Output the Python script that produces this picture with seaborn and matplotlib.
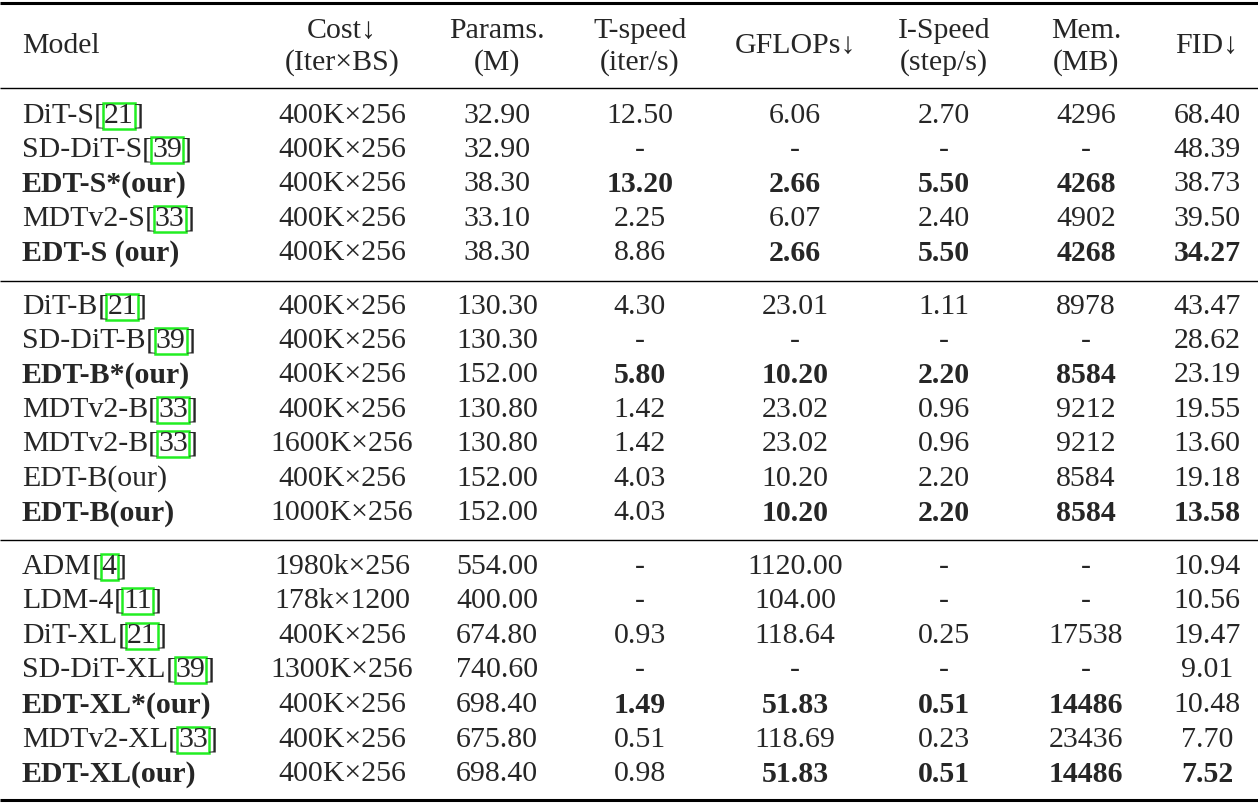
import matplotlib
matplotlib.use("Agg")
import matplotlib.pyplot as plt
import seaborn as sns
from matplotlib.patches import Rectangle

sns.set_theme(style="white")
plt.rcParams['font.family'] = ['Liberation Serif', 'DejaVu Serif']

headers1 = ["Model", "Cost↓", "Params.", "T-speed", "GFLOPs↓", "I-Speed", "Mem.", "FID↓"]
headers2 = ["", "(Iter×BS)", "(M)", "(iter/s)", "", "(step/s)", "(MB)", ""]

models = ["DiT-S", "SD-DiT-S", "EDT-S*(our)", "MDTv2-S", "EDT-S (our)",
          "DiT-B", "SD-DiT-B", "EDT-B*(our)", "MDTv2-B", "MDTv2-B", "EDT-B(our)", "EDT-B(our)",
          "ADM", "LDM-4", "DiT-XL", "SD-DiT-XL", "EDT-XL*(our)", "MDTv2-XL", "EDT-XL(our)"]
refs = ["21", "39", "", "33", "", "21", "39", "", "33", "33", "", "",
        "4", "11", "21", "39", "", "33", ""]
cost = ["400K×256", "400K×256", "400K×256", "400K×256", "400K×256",
        "400K×256", "400K×256", "400K×256", "400K×256", "1600K×256", "400K×256", "1000K×256",
        "1980k×256", "178k×1200", "400K×256", "1300K×256", "400K×256", "400K×256", "400K×256"]
params = ["32.90", "32.90", "38.30", "33.10", "38.30",
          "130.30", "130.30", "152.00", "130.80", "130.80", "152.00", "152.00",
          "554.00", "400.00", "674.80", "740.60", "698.40", "675.80", "698.40"]
tspeed = ["12.50", "-", "13.20", "2.25", "8.86",
          "4.30", "-", "5.80", "1.42", "1.42", "4.03", "4.03",
          "-", "-", "0.93", "-", "1.49", "0.51", "0.98"]
gflops = ["6.06", "-", "2.66", "6.07", "2.66",
          "23.01", "-", "10.20", "23.02", "23.02", "10.20", "10.20",
          "1120.00", "104.00", "118.64", "-", "51.83", "118.69", "51.83"]
ispeed = ["2.70", "-", "5.50", "2.40", "5.50",
          "1.11", "-", "2.20", "0.96", "0.96", "2.20", "2.20",
          "-", "-", "0.25", "-", "0.51", "0.23", "0.51"]
mem = ["4296", "-", "4268", "4902", "4268",
       "8978", "-", "8584", "9212", "9212", "8584", "8584",
       "-", "-", "17538", "-", "14486", "23436", "14486"]
fid = ["68.40", "48.39", "38.73", "39.50", "34.27",
       "43.47", "28.62", "23.19", "19.55", "13.60", "19.18", "13.58",
       "10.94", "10.56", "19.47", "9.01", "10.48", "7.70", "7.52"]
bold = [set(), set(), {0, 3, 4, 5, 6}, set(), {0, 4, 5, 6, 7},
        set(), set(), {0, 3, 4, 5, 6}, set(), set(), set(), {0, 4, 5, 6, 7},
        set(), set(), set(), set(), {0, 3, 4, 5, 6}, set(), {0, 4, 5, 6, 7}]

W, H = 1258, 805
fig = plt.figure(figsize=(W / 100, H / 100), dpi=100)
ax = fig.add_axes([0, 0, 1, 1])
ax.set_xlim(0, W)
ax.set_ylim(H, 0)
ax.axis("off")

fs = 21.5
colx = [22, 342, 497, 640, 795, 944, 1086, 1207]
row_y = [116, 150, 184, 219, 253,
         307, 341, 375, 410, 444, 479, 513,
         567, 601, 636, 670, 705, 740, 774]

for rule_y, lw in [(3, 2.2), (88, 1.0), (281, 1.0), (540, 1.0), (800, 2.2)]:
    ax.plot([0, W], [rule_y, rule_y], color="black", lw=lw, solid_capstyle="butt")

ax.text(colx[0], 46, headers1[0], fontsize=fs, va="center", ha="left")
for i in range(1, 8):
    if headers2[i]:
        ax.text(colx[i], 31, headers1[i], fontsize=fs, va="center", ha="center")
        ax.text(colx[i], 63, headers2[i], fontsize=fs, va="center", ha="center")
    else:
        ax.text(colx[i], 46, headers1[i], fontsize=fs, va="center", ha="center")

fig.canvas.draw()
renderer = fig.canvas.get_renderer()

def width_of(t):
    return t.get_window_extent(renderer).width

for r, y in enumerate(row_y):
    b = bold[r]
    w0 = "bold" if 0 in b else "normal"
    x = colx[0]
    t = ax.text(x, y, models[r], fontsize=fs, va="center", ha="left", fontweight=w0)
    if refs[r]:
        x += width_of(t)
        t = ax.text(x, y, "[", fontsize=fs, va="center", ha="left")
        x += width_of(t)
        t = ax.text(x, y, refs[r], fontsize=fs, va="center", ha="left")
        wr = width_of(t)
        ax.add_patch(Rectangle((x - 1, y - 13), wr + 2, 26, fill=False,
                               edgecolor="#22ee22", lw=1.8))
        x += wr
        ax.text(x, y, "]", fontsize=fs, va="center", ha="left")
    vals = [cost[r], params[r], tspeed[r], gflops[r], ispeed[r], mem[r], fid[r]]
    for c, v in enumerate(vals, start=1):
        ax.text(colx[c], y, v, fontsize=fs, va="center", ha="center",
                fontweight="bold" if c in b else "normal")

fig.savefig("out.png", dpi=100, facecolor="white")
